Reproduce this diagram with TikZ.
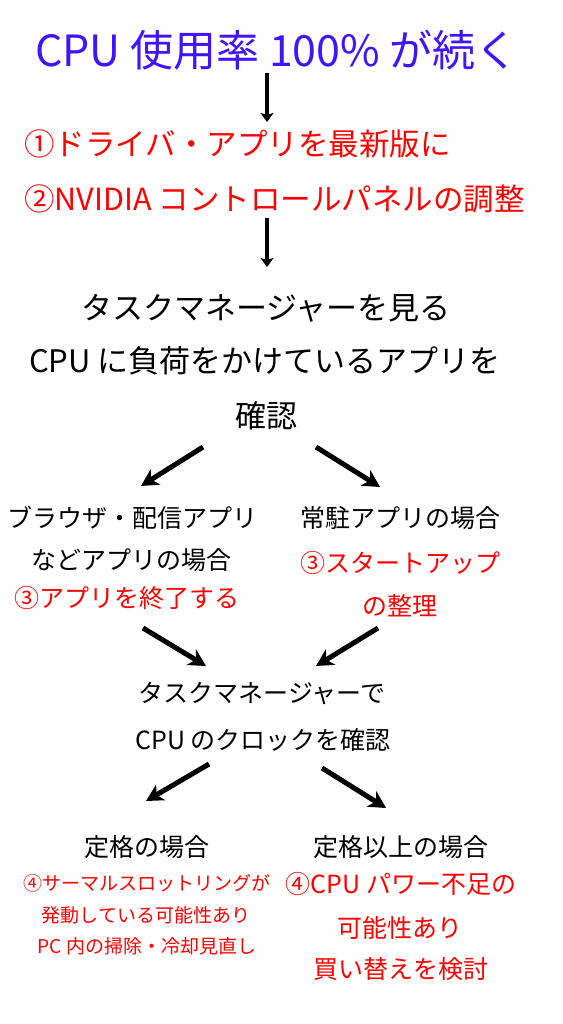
\documentclass[tikz,border=0pt]{standalone}
\usepackage{fontspec}
\setmainfont{Noto Sans CJK JP}
\usetikzlibrary{arrows.meta}
\definecolor{titleblue}{RGB}{64,20,255}
\definecolor{redtxt}{RGB}{255,0,0}
\tikzset{
  lbl/.style={anchor=base, inner sep=0pt, font=\fontsize{25}{30}\selectfont, text=black},
  redlbl/.style={lbl, text=redtxt},
  smallred/.style={redlbl, font=\fontsize{19}{23}\selectfont},
  biglbl/.style={lbl, font=\fontsize{31}{36}\selectfont},
  varrow/.style={line width=3.3pt, -{Stealth[length=9pt,width=13pt,inset=2pt]}},
  darrow/.style={line width=5pt, -{Stealth[length=17pt,width=18pt,inset=5pt]}},
}
\begin{document}
\begin{tikzpicture}[x=1pt,y=-1pt]
\useasboundingbox[fill=white] (0,0) rectangle (562,1024);
% title
\node[lbl, text=titleblue, font=\fontsize{43}{50}\selectfont] (t) at (277,67) {CPU 使用率 100\% が続く};
% step 1/2
\node[redlbl, anchor=base west, font=\fontsize{30.5}{36}\selectfont] (s1) at (24,156) {①ドライバ・アプリを最新版に};
\node[redlbl, anchor=base west, font=\fontsize{30.5}{36}\selectfont] (s2) at (24,211) {②NVIDIA コントロールパネルの調整};
\coordinate (a1s) at (267,73);
\coordinate (a1e) at (267,122);
\draw[varrow] (a1s) -- (a1e);
\coordinate (a2s) at (267,218);
\coordinate (a2e) at (267,267);
\draw[varrow] (a2s) -- (a2e);
% task manager
\node[biglbl] (tm1) at (266,319) {タスクマネージャーを見る};
\node[biglbl] (tm2) at (265,372) {CPU に負荷をかけているアプリを};
\node[biglbl] (tm3) at (266,427) {確認};
\coordinate (d1s) at (203,447);
\coordinate (d1e) at (141,486);
\coordinate (d2s) at (316,447);
\coordinate (d2e) at (380,487);
\draw[darrow] (d1s) -- (d1e);
\draw[darrow] (d2s) -- (d2e);
% left branch
\node[lbl] (b1) at (132,527) {ブラウザ・配信アプリ};
\node[lbl] (b2) at (131,569) {などアプリの場合};
\node[redlbl] (b3) at (127,607) {③アプリを終了する};
% right branch
\node[lbl] (r1) at (400,527) {常駐アプリの場合};
\node[redlbl] (r2) at (400,572) {③スタートアップ};
\node[redlbl] (r3) at (400,615) {の整理};
\coordinate (c1s) at (143,628);
\coordinate (c1e) at (206,666);
\coordinate (c2s) at (378,628);
\coordinate (c2e) at (316,666);
\draw[darrow] (c1s) -- (c1e);
\draw[darrow] (c2s) -- (c2e);
% clock
\node[lbl] (k1) at (262,702) {タスクマネージャーで};
\node[lbl] (k2) at (263,749) {CPU のクロックを確認};
\coordinate (e1s) at (209,764);
\coordinate (e1e) at (146,801);
\coordinate (e2s) at (322,768);
\coordinate (e2e) at (386,808);
\draw[darrow] (e1s) -- (e1e);
\draw[darrow] (e2s) -- (e2e);
% bottom left
\node[lbl] (l1) at (147,856) {定格の場合};
\node[smallred] (l2) at (147,890) {④サーマルスロットリングが};
\node[smallred] (l3) at (146,922) {発動している可能性あり};
\node[smallred] (l4) at (147,953) {PC 内の掃除・冷却見直し};
% bottom right
\node[lbl] (m1) at (401,856) {定格以上の場合};
\node[redlbl] (m2) at (401,893) {④CPU パワー不足の};
\node[redlbl] (m3) at (400,937) {可能性あり};
\node[redlbl] (m4) at (401,978) {買い替えを検討};
\end{tikzpicture}
\end{document}
